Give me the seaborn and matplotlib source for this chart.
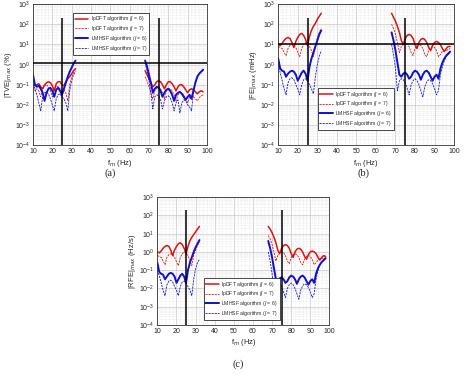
import numpy as np
import pandas as pd
import matplotlib
matplotlib.use("Agg")
import matplotlib.pyplot as plt
import matplotlib.ticker as mticker
import seaborn as sns

# frequency grid (Hz) of the two segments
f_left = [10, 11, 12, 13, 14, 15, 16, 17, 18, 19, 20, 21, 22, 23, 24, 25, 26, 27, 28, 29, 30, 31, 32]
f_right = [68, 69, 70, 71, 72, 73, 74, 75, 76, 77, 78, 79, 80, 81, 82, 83, 84, 85, 86, 87, 88, 89,
           90, 91, 92, 93, 94, 95, 96, 97, 98]

series_names = ["IpDFT algorithm ($J$ = 6)", "IpDFT algorithm ($J$ = 7)",
                "LMHSF algorithm ($J$ = 6)", "LMHSF algorithm ($J$ = 7)"]

# values read off the picture as decade exponents (log10)
# (a) |TVE|max (%)
tve_left = [
    [-1.0, -1.05, -1.0, -0.95, -1.1, -1.2, -1.0, -0.9, -0.85, -0.9, -1.05, -1.3, -0.95, -0.85, -0.85, -1.0, -1.05, -0.85, -0.7, -0.6, -0.45, -0.3, -0.2],
    [-1.3, -1.25, -1.2, -1.3, -1.6, -1.2, -1.05, -1.0, -1.1, -1.3, -1.6, -1.2, -1.1, -1.1, -1.2, -1.4, -1.25, -1.4, -1.8, -1.0, -0.6, -0.4, -0.3],
    [-0.5, -1.0, -1.1, -1.05, -1.2, -1.4, -1.8, -1.4, -1.2, -1.15, -1.3, -1.6, -1.25, -1.15, -1.3, -1.5, -1.2, -0.9, -0.6, -0.35, -0.15, 0.05, 0.2],
    [-0.8, -1.2, -1.5, -1.9, -2.3, -1.6, -1.4, -1.35, -1.45, -1.7, -2.0, -2.3, -1.7, -1.5, -1.45, -1.6, -1.7, -1.9, -2.3, -1.3, -0.8, -0.5, -0.35],
]
tve_right = [
    [-0.3, -0.5, -0.7, -0.9, -1.1, -1.0, -0.85, -0.8, -0.85, -1.0, -1.2, -1.0, -0.85, -0.85, -0.95, -1.1, -1.3, -1.1, -1.0, -1.0, -1.1, -1.25, -1.4, -1.25, -1.2, -1.25, -1.35, -1.45, -1.35, -1.3, -1.35],
    [-0.6, -0.8, -1.1, -1.4, -1.7, -1.3, -1.15, -1.1, -1.2, -1.4, -1.7, -1.3, -1.2, -1.2, -1.3, -1.5, -1.8, -1.5, -1.4, -1.4, -1.5, -1.7, -1.9, -1.6, -1.55, -1.6, -1.7, -1.8, -1.65, -1.55, -1.5],
    [0.2, -0.1, -0.5, -0.9, -1.4, -1.2, -1.1, -1.15, -1.3, -1.6, -1.4, -1.25, -1.2, -1.3, -1.5, -1.8, -1.5, -1.4, -1.35, -1.45, -1.6, -1.75, -1.6, -1.5, -1.7, -1.3, -0.9, -0.6, -0.45, -0.35, -0.25],
    [0.1, -0.3, -0.8, -1.4, -2.2, -1.6, -1.5, -1.55, -1.75, -2.2, -1.8, -1.6, -1.55, -1.65, -1.9, -2.3, -1.9, -1.75, -2.4, -1.9, -1.75, -1.8, -2.0, -2.1, -2.3, -1.4, -0.9, -0.6, -0.45, -0.35, -0.3],
]
# (b) |FE|max (mHz)
fe_left = [
    [1.0, 0.95, 1.05, 1.2, 1.3, 1.35, 1.3, 1.1, 0.85, 1.15, 1.35, 1.5, 1.55, 1.45, 1.25, 0.95, 1.4, 1.7, 1.9, 2.05, 2.25, 2.4, 2.55],
    [0.9, 0.85, 0.8, 0.6, 0.45, 0.8, 0.95, 1.0, 0.95, 0.85, 0.6, 0.4, 0.8, 1.0, 1.1, 1.05, 0.9, 0.7, 0.4, 0.9, 1.3, 1.6, 1.8],
    [0.3, -0.2, -0.3, -0.35, -0.6, -0.45, -0.35, -0.3, -0.35, -0.5, -0.8, -0.6, -0.4, -0.3, -0.45, -0.8, -0.1, 0.3, 0.6, 0.9, 1.2, 1.5, 1.7],
    [0.0, -0.4, -0.8, -1.2, -1.5, -0.9, -0.7, -0.65, -0.75, -1.0, -1.2, -1.5, -1.0, -0.75, -0.7, -0.8, -1.0, -1.2, -1.45, -0.6, 0.0, 0.4, 0.7],
]
fe_right = [
    [2.55, 2.35, 2.15, 1.9, 1.6, 1.2, 1.0, 1.3, 1.45, 1.5, 1.45, 1.3, 1.0, 0.8, 1.1, 1.25, 1.3, 1.25, 1.1, 0.85, 0.7, 0.95, 1.1, 1.15, 1.1, 1.0, 0.8, 0.65, 0.8, 0.9, 0.9],
    [2.0, 1.8, 1.5, 1.1, 0.6, 0.9, 1.05, 1.1, 1.05, 0.9, 0.6, 0.45, 0.8, 0.95, 1.0, 0.95, 0.8, 0.5, 0.4, 0.7, 0.85, 0.9, 0.85, 0.7, 0.4, 0.5, 0.65, 0.7, 0.7, 0.75, 0.8],
    [1.6, 1.2, 0.7, 0.1, -0.5, -0.6, -0.45, -0.4, -0.5, -0.7, -0.6, -0.4, -0.3, -0.35, -0.5, -0.75, -0.5, -0.35, -0.3, -0.4, -0.6, -0.8, -0.6, -0.5, -0.7, -0.2, 0.1, 0.3, 0.45, 0.55, 0.65],
    [1.0, 0.5, -0.2, -1.3, -0.8, -0.7, -0.75, -0.9, -1.2, -1.5, -1.0, -0.8, -0.7, -0.8, -1.0, -1.3, -1.6, -1.1, -0.85, -0.75, -0.8, -0.95, -1.2, -1.5, -1.3, -0.5, -0.1, 0.2, 0.4, 0.5, 0.6],
]
# (c) |RFE|max (Hz/s)
rfe_left = [
    [0.0, -0.05, 0.05, 0.2, 0.3, 0.35, 0.3, 0.1, -0.2, 0.1, 0.3, 0.45, 0.5, 0.4, 0.2, -0.1, 0.3, 0.6, 0.8, 0.95, 1.1, 1.25, 1.4],
    [-0.2, -0.25, -0.3, -0.5, -0.7, -0.3, -0.15, -0.1, -0.15, -0.3, -0.55, -0.75, -0.3, -0.1, 0.0, -0.05, -0.2, -0.45, -0.75, -0.2, 0.1, 0.35, 0.55],
    [-0.6, -1.1, -1.2, -1.25, -1.5, -1.35, -1.2, -1.15, -1.2, -1.35, -1.7, -1.5, -1.3, -1.2, -1.35, -1.7, -1.0, -0.6, -0.3, 0.0, 0.25, 0.45, 0.65],
    [-1.0, -1.3, -1.7, -2.1, -2.4, -1.8, -1.6, -1.55, -1.65, -1.9, -2.1, -2.4, -1.9, -1.65, -1.6, -1.7, -1.9, -2.1, -2.4, -1.5, -0.9, -0.6, -0.4],
]
rfe_right = [
    [1.4, 1.25, 1.05, 0.8, 0.5, 0.1, -0.1, 0.2, 0.35, 0.4, 0.35, 0.2, -0.1, -0.3, 0.0, 0.15, 0.2, 0.15, 0.0, -0.25, -0.4, -0.15, 0.0, 0.05, 0.0, -0.1, -0.3, -0.45, -0.3, -0.2, -0.25],
    [0.9, 0.7, 0.4, 0.0, -0.5, -0.2, -0.05, 0.0, -0.05, -0.2, -0.5, -0.65, -0.3, -0.15, -0.1, -0.15, -0.3, -0.6, -0.7, -0.4, -0.25, -0.2, -0.25, -0.4, -0.7, -0.6, -0.45, -0.4, -0.35, -0.35, -0.3],
    [0.6, 0.2, -0.3, -0.9, -1.5, -1.6, -1.45, -1.4, -1.5, -1.7, -1.6, -1.4, -1.3, -1.35, -1.5, -1.75, -1.5, -1.35, -1.3, -1.4, -1.6, -1.8, -1.6, -1.5, -1.7, -1.2, -0.9, -0.7, -0.55, -0.45, -0.35],
    [0.0, -0.5, -1.2, -2.3, -1.8, -1.7, -1.75, -1.9, -2.2, -2.5, -2.0, -1.8, -1.7, -1.8, -2.0, -2.3, -2.6, -2.1, -1.85, -1.75, -1.8, -1.95, -2.2, -2.5, -2.3, -1.5, -1.0, -0.7, -0.55, -0.45, -0.4],
]

ylabels = ["|TVE|$_{max}$ (%)", "|FE|$_{max}$ (mHz)", "|RFE|$_{max}$ (Hz/s)"]
limit_lines = [1.2, 10, None]

colors = {series_names[0]: "#e01010", series_names[1]: "#e01010",
          series_names[2]: "#1010d0", series_names[3]: "#1010d0"}
dashes = {series_names[0]: "", series_names[1]: (2.5, 1.2),
          series_names[2]: "", series_names[3]: (2.5, 1.2)}
widths = {series_names[0]: 1.1, series_names[1]: 0.6,
          series_names[2]: 1.4, series_names[3]: 0.6}


def build_frame(left, right):
    rows = []
    for name, lv, rv in zip(series_names, left, right):
        for f, v in zip(f_left, lv):
            rows.append((f, 10.0 ** v, name, "L"))
        for f, v in zip(f_right, rv):
            rows.append((f, 10.0 ** v, name, "R"))
    return pd.DataFrame(rows, columns=["f", "val", "series", "seg"])


sns.set_style("white")
plt.rcParams["font.family"] = ["Liberation Sans", "DejaVu Sans"]
plt.rcParams["mathtext.fontset"] = "dejavusans"

fig = plt.figure(figsize=(4.74, 3.84), dpi=100)
ax_a = fig.add_axes([0.0696, 0.622, 0.367, 0.367])
ax_b = fig.add_axes([0.587, 0.622, 0.371, 0.367])
ax_c = fig.add_axes([0.332, 0.154, 0.363, 0.3325])
axes = [ax_a, ax_b, ax_c]

frames = [build_frame(tve_left, tve_right), build_frame(fe_left, fe_right),
          build_frame(rfe_left, rfe_right)]
legend_pos = [(0.45, 0.94), (0.44, 0.11), (0.49, 0.04)]
legend_loc = ["upper center", "lower center", "lower center"]

for i, ax in enumerate(axes):
    df = frames[i]
    sns.lineplot(data=df, x="f", y="val", hue="series", style="series", size="series",
                 units="seg", estimator=None, palette=colors, dashes=dashes, sizes=widths,
                 hue_order=series_names, style_order=series_names, size_order=series_names,
                 ax=ax, legend="full")
    ax.set_yscale("log")
    ax.set_xlim(10, 100)
    ax.set_ylim(1e-4, 1e3)
    # limits of the standard
    ax.vlines([25, 75], 1e-4, 200, colors="black", linewidth=1.1, zorder=5)
    if limit_lines[i] is not None:
        ax.axhline(limit_lines[i], color="black", linewidth=1.1, zorder=5)

    ax.set_xticks(range(10, 101, 10))
    ax.xaxis.set_minor_locator(mticker.MultipleLocator(2))
    ax.yaxis.set_major_locator(mticker.LogLocator(base=10, numticks=12))
    ax.yaxis.set_minor_locator(mticker.LogLocator(base=10, subs=np.arange(2, 10), numticks=12))
    ax.yaxis.set_minor_formatter(mticker.NullFormatter())
    ax.grid(True, which="major", color="#c8c8c8", linewidth=0.5)
    ax.grid(True, which="minor", color="#dcdcdc", linewidth=0.4, linestyle=":")
    ax.tick_params(which="both", direction="in", labelsize=5, length=2, width=0.5, pad=2)
    ax.tick_params(which="minor", length=1)
    for sp in ax.spines.values():
        sp.set_linewidth(0.6)
        sp.set_color("#333333")
    ax.set_xlabel("f$_{m}$ (Hz)", fontsize=5.5, labelpad=2)
    ax.set_ylabel(ylabels[i], fontsize=5.5, labelpad=1)

    handles, labels = ax.get_legend_handles_labels()
    leg = ax.legend(handles[-4:], labels[-4:], loc=legend_loc[i], bbox_to_anchor=legend_pos[i],
                    fontsize=3.7, frameon=True, fancybox=False, edgecolor="black",
                    framealpha=1, borderpad=0.35, labelspacing=0.15, handlelength=2.6,
                    handletextpad=0.5, borderaxespad=0)
    leg.get_frame().set_linewidth(0.5)

fig.text(110 / 474, 1 - 173 / 384, "(a)", family="Liberation Serif", fontsize=7.5, ha="center", va="center")
fig.text(364 / 474, 1 - 173 / 384, "(b)", family="Liberation Serif", fontsize=7.5, ha="center", va="center")
fig.text(238 / 474, 1 - 364 / 384, "(c)", family="Liberation Serif", fontsize=7.5, ha="center", va="center")

fig.savefig("out.png", dpi=100)
